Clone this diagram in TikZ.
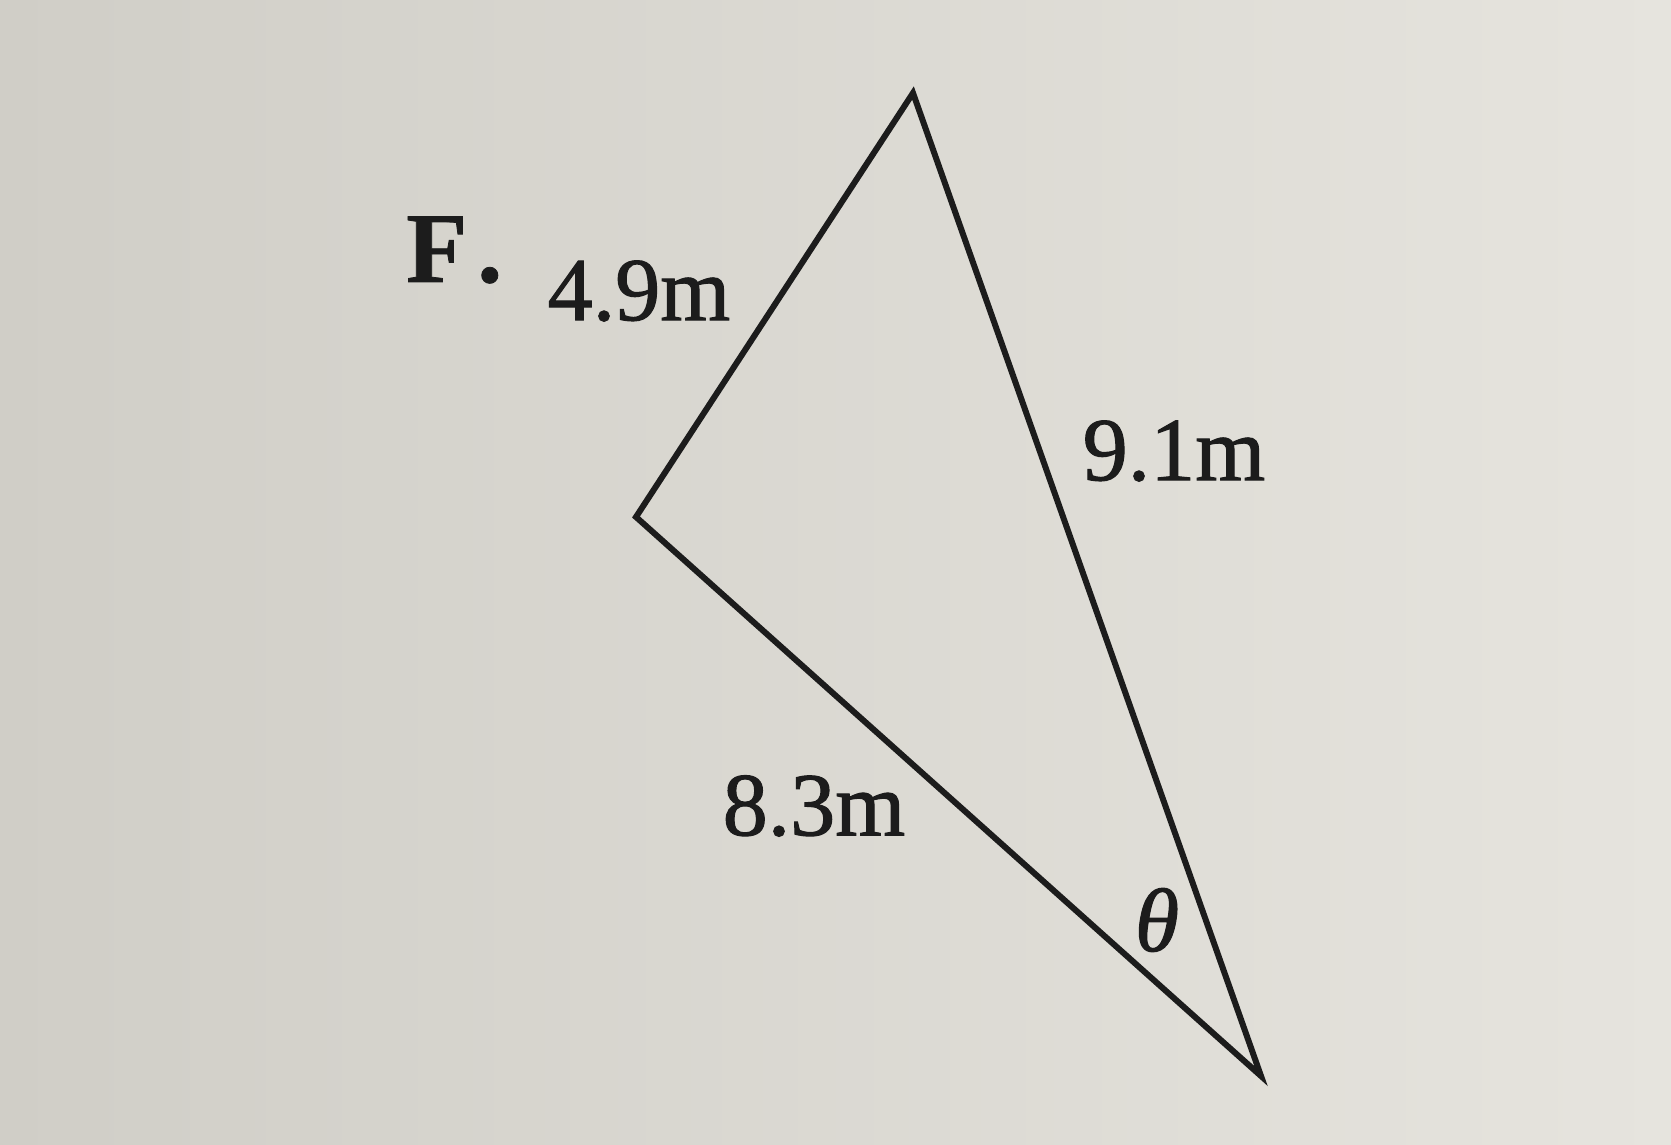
\documentclass[tikz,border=0pt]{standalone}
\usepackage{fontspec}
\setmainfont{Liberation Serif}[FakeBold=1.2]
\newfontfamily\boldserif{Liberation Serif Bold}[FakeBold=0.8]
\definecolor{paperL}{RGB}{208,206,199}
\definecolor{paperR}{RGB}{230,228,222}
\definecolor{ink}{RGB}{28,28,28}
\begin{document}
\begin{tikzpicture}[x=1pt,y=1pt,
  edge/.style={draw=ink,line width=6pt,line join=miter},
  lbl/.style={inner sep=0pt,text=ink,font=\fontsize{90}{100}\selectfont},
  flbl/.style={inner sep=0pt,text=ink,font=\fontsize{100}{110}\selectfont\boldserif}]
\shade[left color=paperL,right color=paperR] (0,0) rectangle (1671,1144);
\useasboundingbox (0,0) rectangle (1671,1144);
\coordinate (A) at (913,1051);
\coordinate (B) at (636,627);
\coordinate (C) at (1261,68);
\draw[edge] (A) -- (B) -- (C) -- cycle;
\node[flbl,anchor=base west] (F) at (406,862) {F\kern 0.1em.};
\node[lbl] (l49) at (639,853) {4.9m};
\node[lbl] (l91) at (1174,693) {9.1m};
\node[lbl] (l83) at (814,338) {8.3m};
\node[lbl] (th) at (1157,224) {\textit{θ}};
\end{tikzpicture}
\end{document}
